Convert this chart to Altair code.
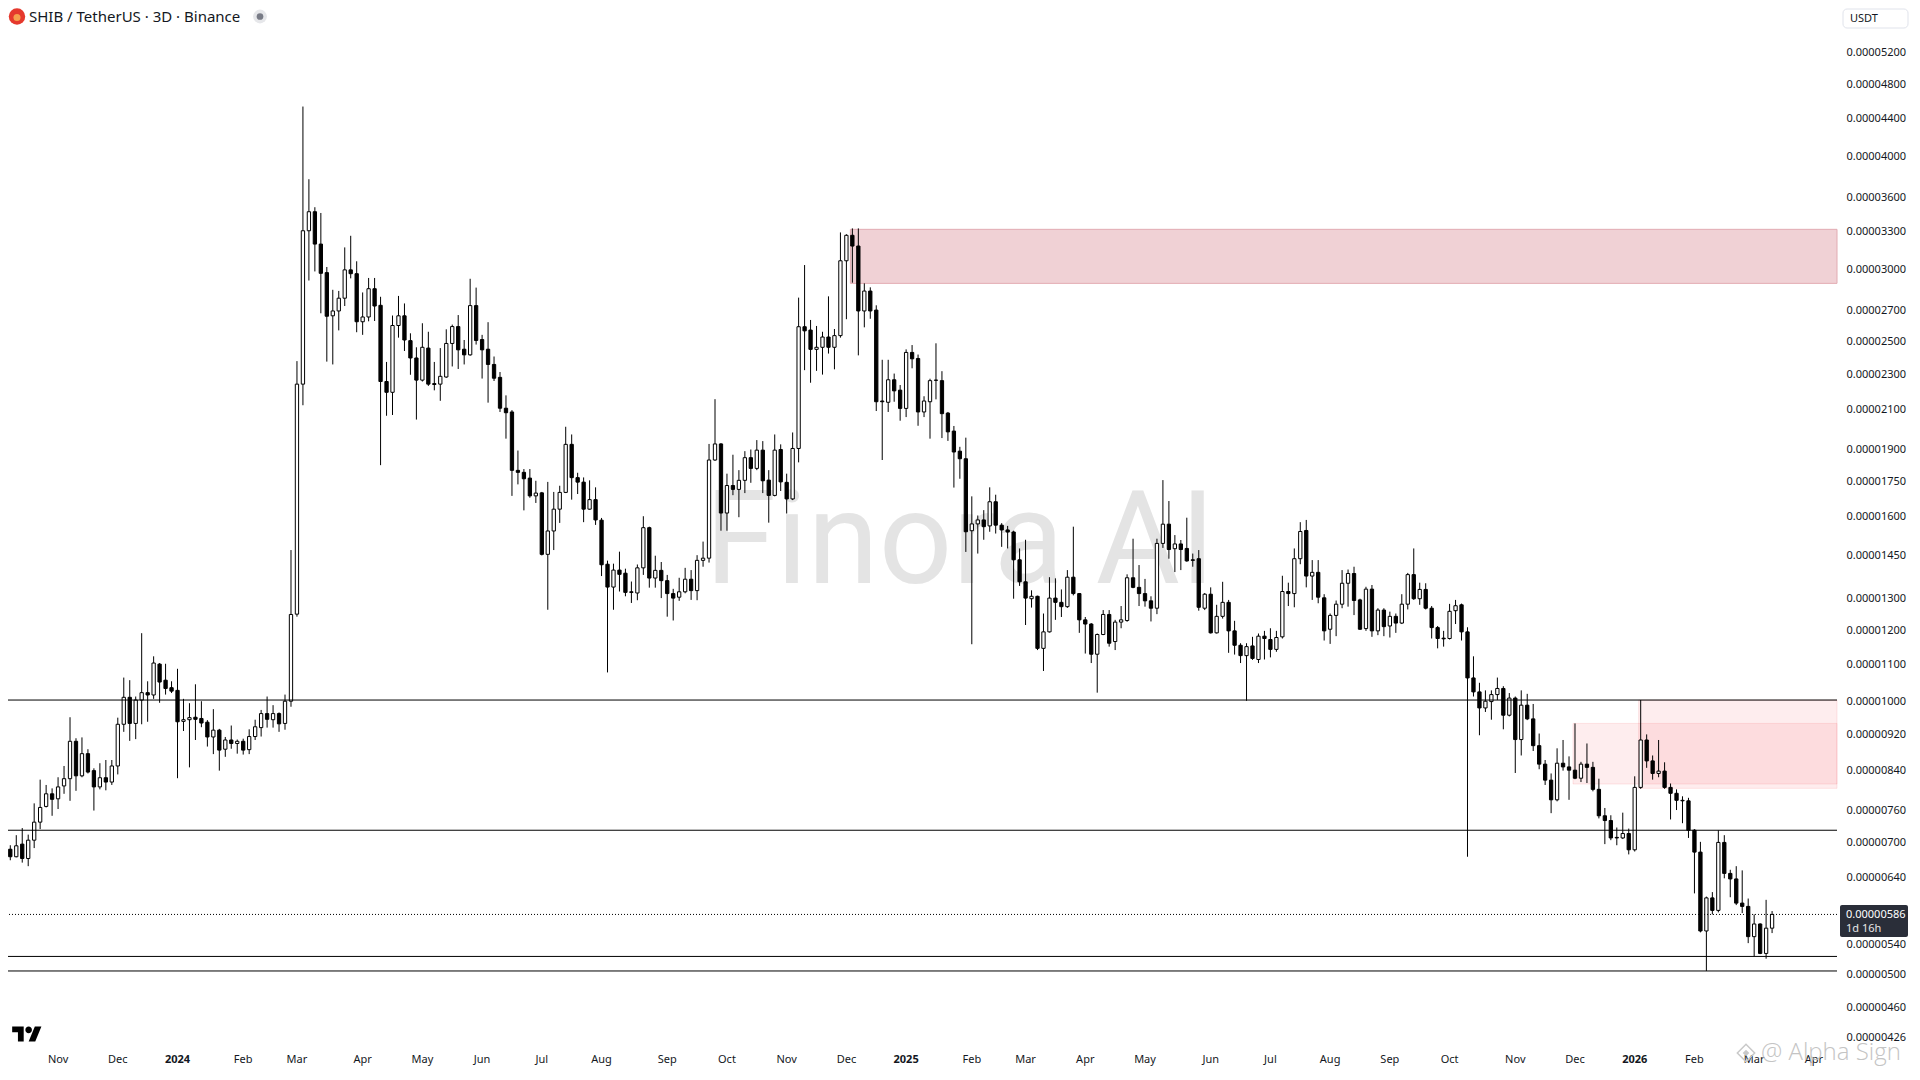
import altair as alt
import numpy as np
import pandas as pd

# ---------------- data: SHIB/USDT 3D candles, prices in units of 1e-8 USDT ----------------
opens = [
    722, 688, 675, 697, 672, 704, 737, 767, 792, 782,
    808, 823, 905, 829, 877, 840, 806, 825, 816, 850,
    945, 1012, 947, 1005, 1024, 1018, 1101, 1057, 1037, 1030,
    952, 956, 962, 959, 950, 915, 931, 887, 908, 900,
    905, 886, 916, 937, 971, 956, 971, 947, 1002, 1250,
    2242, 3310, 3474, 3200, 2976, 2667, 2700, 2789, 2997, 2968,
    2627, 2659, 2857, 2739, 2257, 2196, 2602, 2667, 2504, 2396,
    2265, 2457, 2245, 2242, 2283, 2486, 2595, 2450, 2415, 2737,
    2511, 2450, 2357, 2281, 2109, 2089, 1801, 1792, 1766, 1688,
    1701, 1455, 1544, 1632, 1703, 1924, 1768, 1748, 1632, 1672,
    1587, 1419, 1339, 1398, 1387, 1323, 1319, 1406, 1557, 1370,
    1397, 1361, 1317, 1305, 1323, 1366, 1327, 1433, 1441, 1849,
    1926, 1616, 1733, 1716, 1756, 1860, 1810, 1896, 1757, 1690,
    1899, 1747, 1675, 1904, 2594, 2572, 2449, 2462, 2527, 2462,
    2536, 3067, 3272, 3184, 2700, 2840, 2706, 2148, 2141, 2267,
    2208, 2108, 2430, 2393, 2089, 2144, 2265, 2262, 2083, 1990,
    1891, 1855, 1545, 1572, 1588, 1564, 1663, 1567, 1548, 1540,
    1435, 1357, 1300, 1308, 1146, 1195, 1302, 1288, 1274, 1373,
    1317, 1232, 1219, 1129, 1187, 1249, 1166, 1225, 1230, 1371,
    1338, 1317, 1293, 1269, 1496, 1571, 1476, 1494, 1477, 1435,
    1439, 1269, 1315, 1192, 1243, 1288, 1198, 1155, 1125, 1153,
    1114, 1182, 1172, 1143, 1180, 1324, 1317, 1439, 1546, 1377,
    1390, 1303, 1203, 1246, 1282, 1352, 1386, 1296, 1205, 1332,
    1198, 1263, 1213, 1243, 1222, 1282, 1382, 1300, 1331, 1269,
    1208, 1176, 1175, 1261, 1280, 1195, 1063, 1026, 985, 1001,
    1019, 1035, 967, 1010, 909, 992, 958, 895, 854, 820,
    780, 856, 848, 841, 824, 854, 847, 801, 749, 740,
    709, 708, 716, 687, 805, 908, 861, 834, 839, 805,
    793, 779, 778, 722, 683, 559, 608, 589, 700, 647,
    638, 600, 595, 551, 569, 528, 563,
]
highs = [
    728, 695, 713, 726, 714, 773, 821, 810, 803, 826,
    850, 962, 912, 914, 887, 845, 856, 863, 863, 961,
    1064, 1057, 1014, 1191, 1054, 1123, 1104, 1102, 1054, 1088,
    1008, 997, 1046, 1002, 955, 982, 934, 915, 942, 909,
    911, 933, 956, 980, 1014, 992, 974, 1019, 1471, 2377,
    4538, 3773, 3514, 3463, 3019, 2849, 2841, 3173, 3268, 3063,
    2830, 2936, 2936, 2799, 2372, 2669, 2805, 2752, 2551, 2462,
    2617, 2561, 2372, 2457, 2577, 2608, 2672, 2508, 2930, 2865,
    2541, 2624, 2405, 2312, 2179, 2099, 1894, 1807, 1807, 1754,
    1705, 1749, 1705, 1732, 2012, 1973, 1790, 1769, 1756, 1725,
    1596, 1432, 1421, 1465, 1403, 1358, 1418, 1603, 1561, 1450,
    1427, 1381, 1333, 1371, 1406, 1398, 1452, 1503, 1926, 2158,
    1930, 1786, 1874, 1802, 1891, 1899, 1945, 1940, 1802, 1973,
    1924, 1786, 1983, 2793, 3034, 2639, 2599, 2561, 2802, 2579,
    3296, 3281, 3330, 3330, 2896, 2867, 2739, 2385, 2385, 2303,
    2237, 2449, 2476, 2417, 2174, 2273, 2487, 2317, 2089, 2016,
    1912, 1957, 1686, 1606, 1628, 1725, 1693, 1575, 1564, 1545,
    1477, 1510, 1328, 1310, 1252, 1373, 1369, 1331, 1398, 1561,
    1319, 1241, 1222, 1190, 1263, 1263, 1232, 1276, 1383, 1514,
    1416, 1367, 1308, 1514, 1757, 1666, 1528, 1509, 1597, 1458,
    1471, 1319, 1338, 1280, 1357, 1296, 1229, 1161, 1161, 1180,
    1190, 1198, 1206, 1198, 1378, 1354, 1477, 1579, 1588, 1434,
    1434, 1315, 1252, 1294, 1398, 1400, 1410, 1300, 1340, 1346,
    1269, 1269, 1258, 1252, 1315, 1388, 1477, 1354, 1352, 1276,
    1213, 1198, 1283, 1296, 1284, 1209, 1123, 1050, 1030, 1030,
    1064, 1041, 1023, 1014, 1030, 1021, 995, 923, 863, 834,
    889, 908, 871, 947, 859, 900, 859, 823, 764, 750,
    727, 755, 725, 828, 1005, 921, 873, 908, 858, 813,
    801, 787, 784, 724, 701, 610, 617, 722, 713, 653,
    659, 652, 607, 583, 570, 605, 588,
]
lows = [
    684, 669, 674, 665, 659, 690, 724, 765, 749, 762,
    792, 778, 798, 826, 834, 759, 801, 799, 810, 832,
    927, 906, 910, 945, 951, 1008, 998, 1019, 1023, 824,
    929, 847, 908, 938, 893, 876, 840, 870, 888, 877,
    875, 876, 908, 916, 937, 937, 927, 932, 988, 1242,
    2125, 2917, 2985, 2684, 2374, 2357, 2570, 2734, 2933, 2558,
    2541, 2630, 2632, 1825, 2069, 2073, 2523, 2439, 2296, 2049,
    2257, 2232, 2207, 2149, 2278, 2345, 2330, 2357, 2410, 2479,
    2274, 2139, 2260, 2089, 1952, 1688, 1738, 1627, 1680, 1658,
    1451, 1264, 1471, 1576, 1700, 1672, 1696, 1579, 1630, 1568,
    1377, 1078, 1264, 1324, 1308, 1286, 1295, 1381, 1337, 1337,
    1302, 1242, 1230, 1293, 1318, 1296, 1295, 1410, 1425, 1845,
    1545, 1545, 1691, 1599, 1700, 1745, 1802, 1700, 1577, 1686,
    1709, 1614, 1670, 1838, 2323, 2250, 2319, 2297, 2423, 2328,
    2523, 2644, 2901, 2412, 2590, 2647, 2094, 1849, 2089, 2144,
    2043, 2062, 2334, 2017, 2062, 1952, 2157, 1955, 1941, 1724,
    1763, 1464, 1158, 1458, 1510, 1541, 1534, 1483, 1477, 1300,
    1343, 1216, 1271, 1141, 1082, 1193, 1232, 1241, 1270, 1311,
    1192, 1131, 1104, 1024, 1185, 1151, 1141, 1206, 1226, 1335,
    1276, 1274, 1227, 1250, 1479, 1439, 1391, 1398, 1428, 1410,
    1261, 1263, 1190, 1190, 1236, 1133, 1128, 1104, 1003, 1113,
    1104, 1114, 1120, 1136, 1175, 1276, 1272, 1419, 1338, 1296,
    1285, 1169, 1159, 1182, 1269, 1274, 1247, 1201, 1198, 1180,
    1185, 1182, 1178, 1192, 1219, 1265, 1296, 1280, 1265, 1175,
    1146, 1151, 1172, 1219, 1169, 675, 1014, 919, 975, 956,
    1005, 933, 964, 835, 873, 955, 883, 843, 810, 754,
    777, 840, 780, 822, 816, 814, 797, 744, 697, 704,
    695, 706, 679, 684, 802, 846, 821, 826, 802, 742,
    760, 735, 708, 615, 557, 505, 583, 586, 639, 609,
    597, 585, 542, 524, 527, 521, 556,
]
closes = [
    690, 675, 694, 672, 704, 737, 765, 792, 781, 806,
    823, 905, 829, 877, 837, 806, 825, 816, 850, 945,
    1012, 947, 1005, 1024, 1018, 1104, 1052, 1035, 1028, 951,
    956, 961, 957, 948, 915, 931, 885, 908, 900, 905,
    885, 916, 939, 971, 957, 971, 946, 1002, 1249, 2242,
    3310, 3474, 3200, 2971, 2664, 2700, 2789, 2997, 2968, 2627,
    2659, 2857, 2734, 2257, 2196, 2602, 2667, 2508, 2396, 2265,
    2462, 2242, 2240, 2287, 2486, 2595, 2446, 2415, 2737, 2505,
    2446, 2357, 2276, 2109, 2085, 1801, 1792, 1763, 1688, 1700,
    1455, 1544, 1632, 1703, 1924, 1768, 1748, 1632, 1672, 1588,
    1417, 1339, 1398, 1383, 1321, 1321, 1406, 1557, 1370, 1397,
    1361, 1317, 1302, 1323, 1366, 1327, 1433, 1441, 1849, 1926,
    1616, 1733, 1716, 1756, 1860, 1810, 1896, 1754, 1690, 1896,
    1749, 1675, 1904, 2594, 2567, 2449, 2462, 2527, 2462, 2536,
    3067, 3272, 3184, 2700, 2840, 2700, 2144, 2144, 2267, 2204,
    2108, 2430, 2391, 2089, 2148, 2262, 2264, 2080, 1986, 1887,
    1855, 1541, 1572, 1588, 1561, 1663, 1567, 1548, 1540, 1435,
    1357, 1302, 1308, 1146, 1195, 1302, 1288, 1274, 1373, 1317,
    1232, 1219, 1129, 1187, 1249, 1161, 1225, 1232, 1371, 1338,
    1317, 1293, 1269, 1496, 1571, 1473, 1494, 1473, 1431, 1433,
    1272, 1315, 1192, 1243, 1288, 1198, 1155, 1125, 1151, 1117,
    1182, 1175, 1143, 1178, 1324, 1317, 1439, 1542, 1377, 1390,
    1305, 1198, 1246, 1282, 1352, 1386, 1294, 1203, 1332, 1198,
    1263, 1211, 1243, 1222, 1282, 1382, 1300, 1331, 1269, 1208,
    1175, 1174, 1259, 1277, 1195, 1063, 1026, 985, 1002, 1019,
    1035, 967, 1010, 909, 992, 958, 895, 854, 820, 780,
    856, 848, 841, 824, 854, 847, 801, 749, 740, 708,
    708, 716, 687, 805, 908, 861, 834, 839, 805, 793,
    779, 778, 722, 683, 559, 608, 589, 700, 647, 638,
    600, 595, 551, 569, 528, 563, 583,
]
FIRST_BAR = "2023-10-06"
BAR_DAYS = 3
PRICE_UNIT = 1e-8

# horizontal levels and zones (same price units)
level_values = [1005, 722, 524, 505]
zone_starts = ["2024-12-04", "2025-12-02", "2026-01-04"]
zone_tops = [3322, 947, 1005]
zone_bottoms = [2896, 812, 803]

# axis tick values and labels
price_ticks = [5200, 4800, 4400, 4000, 3600, 3300, 3000, 2700, 2500, 2300, 2100,
               1900, 1750, 1600, 1450, 1300, 1200, 1100, 1000, 920, 840, 760,
               700, 640, 540, 500, 460, 426]
month_labels = ["Nov", "Dec", "2024", "Feb", "Mar", "Apr", "May", "Jun", "Jul", "Aug",
                "Sep", "Oct", "Nov", "Dec", "2025", "Feb", "Mar", "Apr", "May", "Jun",
                "Jul", "Aug", "Sep", "Oct", "Nov", "Dec", "2026", "Feb", "Mar", "Apr"]
year_labels = {"2024", "2025", "2026"}

title_text = "SHIB / TetherUS · 3D · Binance"
last_price_text = "0.00000586"
countdown_text = "1d 16h"
currency_text = "USDT"
watermark_text = "Finora AI"
signature_text = "@ Alpha Sign"

# ---------------- frames ----------------
REF = pd.Timestamp("2024-01-01")
bar_dates = pd.date_range(FIRST_BAR, periods=len(opens), freq=f"{BAR_DAYS}D")
first_day = (pd.Timestamp(FIRST_BAR) - REF).days
candles = pd.DataFrame({
    "day": (bar_dates - REF).days.astype(float),
    "open": np.array(opens) * PRICE_UNIT,
    "high": np.array(highs) * PRICE_UNIT,
    "low": np.array(lows) * PRICE_UNIT,
    "close": np.array(closes) * PRICE_UNIT,
})
candles["dir"] = np.where(candles["close"] >= candles["open"], "up", "down")

zones = pd.DataFrame({
    "start": [float((pd.Timestamp(s) - REF).days) for s in zone_starts],
    "top": np.array(zone_tops) * PRICE_UNIT,
    "bottom": np.array(zone_bottoms) * PRICE_UNIT,
})
levels = pd.DataFrame({"v": np.array(level_values) * PRICE_UNIT})
current = pd.DataFrame({"v": [closes[-1] * PRICE_UNIT]})

# time-axis labels sit on the first bar of each month (bar grid continues into the future)
month_starts = pd.date_range("2023-11-01", periods=len(month_labels), freq="MS")
month_days = []
for m in month_starts:
    d = (m - REF).days
    d += (first_day - d) % BAR_DAYS
    month_days.append(float(d))
months = pd.DataFrame({"day": month_days, "label": month_labels})
months["year"] = months["label"].isin(year_labels)

# ---------------- scales ----------------
W, H = 1837, 1055
FONT = "Noto Sans"
INK = "#131722"
X_SC = alt.Scale(domain=[-86.66, 831.1], nice=False, zero=False)
Y_SC = alt.Scale(type="log", domain=[4.0794e-6, 5.9482e-5], nice=False, zero=False)
Y_AX = alt.Axis(values=[v * PRICE_UNIT for v in price_ticks], format=".8f", orient="right",
                domain=False, ticks=False, grid=False, title=None, labelFont=FONT,
                labelFontSize=11, labelColor=INK, labelPadding=9, labelOverlap=False,
                labelFlush=False)


def X(field):
    return alt.X(field, scale=X_SC, axis=None)


def Y(field):
    return alt.Y(field, scale=Y_SC, axis=Y_AX)


one = pd.DataFrame({"k": [0]})


def label(text, x, y, **kw):
    return alt.Chart(pd.DataFrame({"t": [text]})).mark_text(**kw).encode(
        text="t:N", x=alt.value(x), y=alt.value(y))


# ---------------- layers ----------------
watermark = label(watermark_text, 960, 583, font="Roboto", fontWeight=400, fontSize=129,
                  color="#e4e4e4", align="center", baseline="alphabetic")

zone_a = alt.Chart(zones.iloc[:1]).mark_rect(fill="#f0d1d5", stroke="#e2abb2", strokeWidth=1).encode(
    x=X("start:Q"), x2=alt.value(W), y=Y("top:Q"), y2="bottom:Q")
zone_b = alt.Chart(zones.iloc[1:]).mark_rect(fill="#f23645", fillOpacity=0.09, stroke="#f23645",
                                              strokeOpacity=0.12, strokeWidth=1).encode(
    x=X("start:Q"), x2=alt.value(W), y=Y("top:Q"), y2="bottom:Q")

wicks = alt.Chart(candles).mark_rule(color="#000000", strokeWidth=1, clip=True).encode(
    x=X("day:Q"), y=Y("low:Q"), y2="high:Q")
bodies = alt.Chart(candles).mark_bar(size=3.3, stroke="#000000", strokeWidth=1, clip=True).encode(
    x=X("day:Q"), y=Y("open:Q"), y2="close:Q",
    fill=alt.Fill("dir:N", scale=alt.Scale(domain=["up", "down"], range=["#ffffff", "#000000"]),
                  legend=None))

level_lines = alt.Chart(levels).mark_rule(color="#000000", strokeWidth=1).encode(y=Y("v:Q"))
current_line = alt.Chart(current).mark_rule(color="#000000", strokeWidth=1, strokeDash=[1, 2]).encode(
    y=Y("v:Q"))

LABEL_Y = 1060
month_text = alt.Chart(months[~months["year"]]).mark_text(
    font=FONT, fontSize=11, color=INK, baseline="middle", align="center").encode(
    x=X("day:Q"), y=alt.value(LABEL_Y), text="label:N")
year_text = alt.Chart(months[months["year"]]).mark_text(
    font=FONT, fontSize=11, fontWeight="bold", color=INK, baseline="middle", align="center").encode(
    x=X("day:Q"), y=alt.value(LABEL_Y), text="label:N")

# header
icon = alt.Chart(one).mark_point(shape="circle", filled=True, size=270, color="#e5392d", opacity=1).encode(
    x=alt.value(17), y=alt.value(16.5))
icon_in = alt.Chart(one).mark_point(shape="circle", filled=True, size=50, color="#f6a04d", opacity=1).encode(
    x=alt.value(17), y=alt.value(17.5))
title = label(title_text, 29, 17, font=FONT, fontSize=15, color=INK, align="left", baseline="middle")
dot_out = alt.Chart(one).mark_point(shape="circle", filled=True, size=190, color="#e6e7ea", opacity=1).encode(
    x=alt.value(260), y=alt.value(16.5))
dot_in = alt.Chart(one).mark_point(shape="circle", filled=True, size=45, color="#787b86", opacity=1).encode(
    x=alt.value(260), y=alt.value(16.5))

# currency box
usdt_box = alt.Chart(one).mark_rect(fill="#ffffff", stroke="#e0e3eb", strokeWidth=1, cornerRadius=4).encode(
    x=alt.value(1843), x2=alt.value(1908), y=alt.value(9), y2=alt.value(28))
usdt = label(currency_text, 1850, 18.5, font=FONT, fontSize=11, color=INK, align="left", baseline="middle")

# last price tag
tag = alt.Chart(one).mark_rect(fill="#2a2e39", cornerRadius=2).encode(
    x=alt.value(1840), x2=alt.value(1908), y=alt.value(905), y2=alt.value(937))
tag_price = label(last_price_text, 1846, 914.5, font=FONT, fontSize=11, color="#ffffff",
                  align="left", baseline="middle")
tag_time = label(countdown_text, 1846, 929, font=FONT, fontSize=11, color="#e6e6e6",
                 align="left", baseline="middle")

# logos
TV_PATH = ("M -0.222 0.5 H -0.611 V -0.111 H -1 V -0.5 H -0.222 Z "
           "M 0.556 0.5 H 0.111 L 0.528 -0.5 H 0.972 Z "
           "M -0.111 -0.278 A 0.222 0.222 0 1 0 0.333 -0.278 A 0.222 0.222 0 1 0 -0.111 -0.278 Z")
tv_logo = alt.Chart(one).mark_point(shape=TV_PATH, filled=True, size=880, color="#000000", opacity=1).encode(
    x=alt.value(27), y=alt.value(1034))

sig_icon = alt.Chart(one).mark_point(shape="diamond", filled=False, size=300, color="#c9c9c9",
                                     strokeWidth=1.5, opacity=1).encode(x=alt.value(1746), y=alt.value(1053))
sig_icon2 = alt.Chart(one).mark_point(shape="diamond", filled=True, size=45, color="#c9c9c9",
                                      opacity=1).encode(x=alt.value(1746), y=alt.value(1053))
signature = label(signature_text, 1761, 1053, font="Open Sans", fontWeight=300, fontSize=24,
                  color="#c4c4c4", align="left", baseline="middle")

chart = alt.layer(
    watermark, zone_a, zone_b, wicks, bodies, level_lines, current_line,
    month_text, year_text, icon, icon_in, title, dot_out, dot_in,
    usdt_box, usdt, tag, tag_price, tag_time, tv_logo, sig_icon, sig_icon2, signature,
).properties(
    width=W, height=H,
    padding={"left": -8, "top": -8, "right": 73, "bottom": 11},
    autosize=alt.AutoSizeParams(type="none"),
    background="#ffffff",
).configure_view(stroke=None)

chart.save("out.html", embed_options={"renderer": "svg", "actions": False})
